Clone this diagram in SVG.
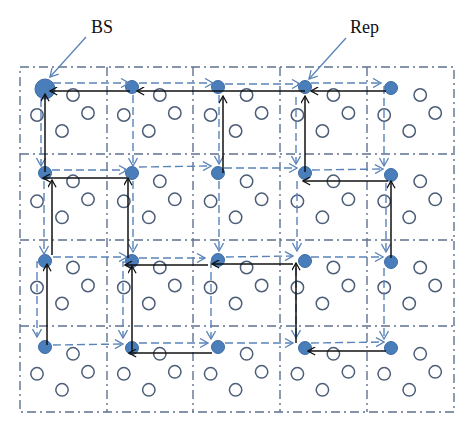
<svg xmlns="http://www.w3.org/2000/svg" width="474" height="432" viewBox="0 0 474 432">
<style>
.grid{fill:none;stroke:#5f7290;stroke-width:1.4;stroke-dasharray:9 4 2 4}
.hol{fill:none;stroke:#4c5d78;stroke-width:1.5}
.rep{fill:#4a7ebb;stroke:#3d6ca5;stroke-width:1}
.blk{fill:none;stroke:#111;stroke-width:1.5;marker-end:url(#ab)}
.dsh{fill:none;stroke:#5a84b8;stroke-width:1.4;stroke-dasharray:8 4;marker-end:url(#aw)}
.ptr{fill:none;stroke:#5a84b8;stroke-width:1.3;marker-end:url(#aw)}
.lbl{font-family:"Liberation Serif","DejaVu Serif",serif;font-size:18px;fill:#111}
</style>
<defs>
<marker id="ab" viewBox="0 0 10 10" refX="9" refY="5" markerWidth="9" markerHeight="9" markerUnits="userSpaceOnUse" orient="auto"><path d="M1,0.5 L9,5 L1,9.5" fill="none" stroke="#111" stroke-width="1.4"/></marker>
<marker id="aw" viewBox="0 0 10 10" refX="9" refY="5" markerWidth="10" markerHeight="10" markerUnits="userSpaceOnUse" orient="auto"><path d="M1,0.5 L9,5 L1,9.5" fill="none" stroke="#5a84b8" stroke-width="1.3"/></marker>
<g id="cellpat"><circle class="hol" cx="53" cy="28" r="6.2"/><circle class="hol" cx="17" cy="48" r="6.2"/><circle class="hol" cx="68" cy="46" r="6.2"/><circle class="hol" cx="42" cy="64" r="6.2"/></g>
</defs>
<rect width="474" height="432" fill="#fff"/>
<g id="grid">
<rect class="grid" x="20" y="67" width="434" height="345"/>
<line class="grid" x1="107" y1="67" x2="107" y2="412"/>
<line class="grid" x1="193" y1="67" x2="193" y2="412"/>
<line class="grid" x1="280" y1="67" x2="280" y2="412"/>
<line class="grid" x1="367" y1="67" x2="367" y2="412"/>
<line class="grid" x1="20" y1="154" x2="454" y2="154"/>
<line class="grid" x1="20" y1="240" x2="454" y2="240"/>
<line class="grid" x1="20" y1="326" x2="454" y2="326"/>
</g>
<g id="sensors">
<use href="#cellpat" x="20" y="67"/><use href="#cellpat" x="106.8" y="67"/><use href="#cellpat" x="193.6" y="67"/><use href="#cellpat" x="280.4" y="67"/><use href="#cellpat" x="367.2" y="67"/>
<use href="#cellpat" x="20" y="153.3"/><use href="#cellpat" x="106.8" y="153.3"/><use href="#cellpat" x="193.6" y="153.3"/><use href="#cellpat" x="280.4" y="153.3"/><use href="#cellpat" x="367.2" y="153.3"/>
<use href="#cellpat" x="20" y="239.5"/><use href="#cellpat" x="106.8" y="239.5"/><use href="#cellpat" x="193.6" y="239.5"/><use href="#cellpat" x="280.4" y="239.5"/><use href="#cellpat" x="367.2" y="239.5"/>
<use href="#cellpat" x="20" y="325.8"/><use href="#cellpat" x="106.8" y="325.8"/><use href="#cellpat" x="193.6" y="325.8"/><use href="#cellpat" x="280.4" y="325.8"/><use href="#cellpat" x="367.2" y="325.8"/>
</g>
<g id="nodes">
<g id="BS"><circle class="rep" cx="45" cy="89" r="10"/></g>
<g id="r12"><circle class="rep" cx="132" cy="87" r="6.5"/></g>
<g id="r13"><circle class="rep" cx="218" cy="87" r="6.5"/></g>
<g id="r14"><circle class="rep" cx="305" cy="87" r="6.5"/></g>
<g id="r15"><circle class="rep" cx="391" cy="88" r="6.5"/></g>
<g id="r21"><circle class="rep" cx="45" cy="173" r="6.5"/></g>
<g id="r22"><circle class="rep" cx="132" cy="173" r="6.5"/></g>
<g id="r23"><circle class="rep" cx="218" cy="173" r="6.5"/></g>
<g id="r24"><circle class="rep" cx="305" cy="173" r="6.5"/></g>
<g id="r25"><circle class="rep" cx="391" cy="175" r="6.5"/></g>
<g id="r31"><circle class="rep" cx="45" cy="261" r="6.5"/></g>
<g id="r32"><circle class="rep" cx="132" cy="261" r="6.5"/></g>
<g id="r33"><circle class="rep" cx="218" cy="260" r="6.5"/></g>
<g id="r34"><circle class="rep" cx="305" cy="261" r="6.5"/></g>
<g id="r35"><circle class="rep" cx="391" cy="262" r="6.5"/></g>
<g id="r41"><circle class="rep" cx="45" cy="347" r="6.5"/></g>
<g id="r42"><circle class="rep" cx="132" cy="348" r="6.5"/></g>
<g id="r43"><circle class="rep" cx="218" cy="347" r="6.5"/></g>
<g id="r44"><circle class="rep" cx="305" cy="348" r="6.5"/></g>
<g id="r45"><circle class="rep" cx="391" cy="348" r="6.5"/></g>
</g>
<g id="connectors">
<path class="dsh" d="M53,83 L129,83"/>
<path class="dsh" d="M139,83 L213,83"/>
<path class="dsh" d="M225,84 L300,84"/>
<path class="dsh" d="M311,83 L381,83"/>
<path class="dsh" d="M41,99 L41,166"/>
<path class="dsh" d="M133,95 L133,166"/>
<path class="dsh" d="M219,95 L219,164"/>
<path class="dsh" d="M296,97 L296,164"/>
<path class="dsh" d="M384,86 L384,166"/>
<path class="dsh" d="M52,170 L127,170"/>
<path class="dsh" d="M139,167 L211,166"/>
<path class="dsh" d="M224,168 L297,168"/>
<path class="dsh" d="M312,170 L383,169"/>
<path class="dsh" d="M44,181 L44,254"/>
<path class="dsh" d="M133,181 L133,252"/>
<path class="dsh" d="M219,181 L219,251"/>
<path class="dsh" d="M297,181 L297,251"/>
<path class="dsh" d="M386,183 L386,252"/>
<path class="dsh" d="M53,257 L127,257"/>
<path class="dsh" d="M139,258 L205,258"/>
<path class="dsh" d="M226,257 L293,256"/>
<path class="dsh" d="M311,257 L383,257"/>
<path class="dsh" d="M39,262 L37,262 L37,337"/>
<path class="dsh" d="M126,262 L123,262 L123,338"/>
<path class="dsh" d="M213,262 L211,262 L211,339"/>
<path class="dsh" d="M296,268 L296,338"/>
<path class="dsh" d="M384,268 L384,339"/>
<path class="dsh" d="M53,345 L123,344"/>
<path class="dsh" d="M139,343 L208,343"/>
<path class="dsh" d="M225,343 L293,343"/>
<path class="dsh" d="M311,343 L384,342"/>
<path class="blk" d="M386,91 L311,91"/>
<path class="blk" d="M305,91 L137,91"/>
<path class="blk" d="M130,91 L50,91"/>
<path class="blk" d="M223,173 L223,96"/>
<path class="blk" d="M305,172 L305,96"/>
<path class="blk" d="M391,258 L391,181"/>
<path class="blk" d="M388,181 L303,181"/>
<path class="blk" d="M45,172 L45,94"/>
<path class="blk" d="M128,258 L128,178"/>
<path class="blk" d="M127,178 L43,178"/>
<path class="blk" d="M52,255 L52,180"/>
<path class="blk" d="M47,345 L47,264"/>
<path class="blk" d="M132,352 L132,266"/>
<path class="blk" d="M212,353 L129,353"/>
<path class="blk" d="M208,265 L125,265"/>
<path class="blk" d="M296,343 L296,263"/>
<path class="blk" d="M293,264 L212,264"/>
<path class="blk" d="M386,351 L308,351"/>
<path class="ptr" d="M86,37 L50,77"/>
<path class="ptr" d="M346,38 L309,79"/>
</g>
<g id="labels">
<text class="lbl" x="91" y="33">BS</text>
<text class="lbl" x="350" y="33">Rep</text>
</g>
</svg>
